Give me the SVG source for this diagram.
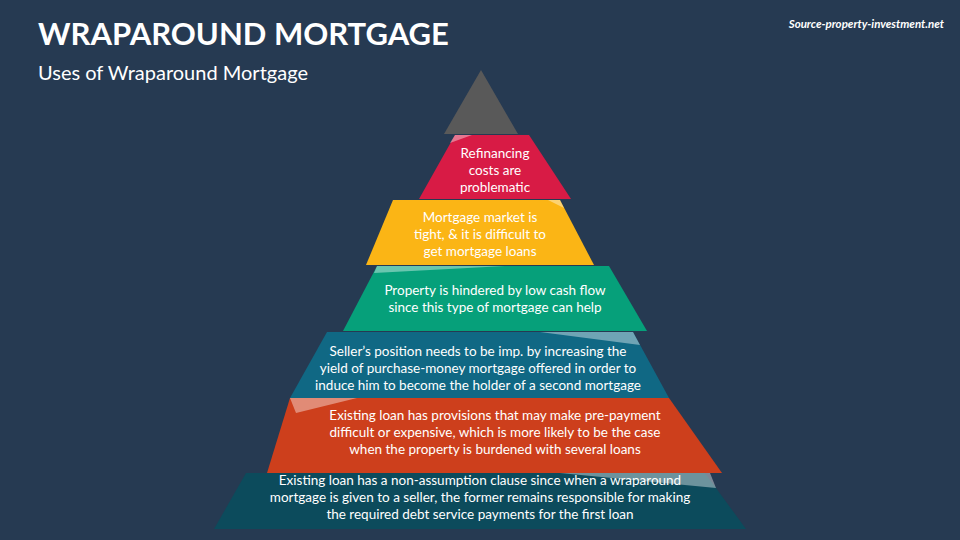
<svg xmlns="http://www.w3.org/2000/svg" width="960" height="540" viewBox="0 0 960 540">
<style>
.t{font-family:Lato,"Open Sans",sans-serif;font-size:13.5px;fill:#fff;text-anchor:middle}
.hl{fill:#fff;opacity:0.4}
</style>
<rect width="960" height="540" fill="#263a52"/>
<text x="38" y="45" font-family="Lato,'Open Sans',sans-serif" font-weight="bold" font-size="31" fill="#fff">WRAPAROUND MORTGAGE</text>
<text x="38" y="80" font-family="Lato,'Open Sans',sans-serif" font-size="20" fill="#fff">Uses of Wraparound Mortgage</text>
<text x="944" y="28" text-anchor="end" font-family="Lato,'Open Sans',sans-serif" font-weight="bold" font-style="italic" font-size="11.5" fill="#fff">Source-property-investment.net</text>
<g id="top"><polygon points="481,70 518,134 444,134" fill="#595959"/></g>
<g id="l1"><polygon points="455,135 529,135 571,199 419,199" fill="#d81b45"/><polygon class="hl" points="455,135 472,135 450,143"/>
<text class="t" x="495" y="158">Refinancing</text><text class="t" x="495" y="175">costs are</text><text class="t" x="495" y="192">problematic</text></g>
<g id="l2"><polygon points="393,200 560,200 594,265 366,265" fill="#fbb515"/><polygon class="hl" points="548,200 560,200 564,208"/>
<text class="t" x="480" y="222">Mortgage market is</text><text class="t" x="480" y="239">tight, &amp; it is difficult to</text><text class="t" x="480" y="256">get mortgage loans</text></g>
<g id="l3"><polygon points="377,266 609,266 647,331 343,331" fill="#06a07a"/><polygon class="hl" points="377,266 505,266 374,273"/>
<text class="t" x="495" y="295">Property is hindered by low cash flow</text><text class="t" x="495" y="312">since this type of mortgage can help</text></g>
<g id="l4"><polygon points="327,332 633,332 669,398 290,398" fill="#106884"/><polygon class="hl" points="540,332 633,332 640,345"/>
<text class="t" x="478" y="356">Seller’s position needs to be imp. by increasing the</text><text class="t" x="478" y="373">yield of purchase-money mortgage offered in order to</text><text class="t" x="478" y="390">induce him to become the holder of a second mortgage</text></g>
<g id="l5"><polygon points="290,398 669,398 722,473 267,473" fill="#cd3f1c"/><polygon class="hl" points="290,398 357,398 296,413"/>
<text class="t" x="495" y="420">Existing loan has provisions that may make pre-payment</text><text class="t" x="495" y="437">difficult or expensive, which is more likely to be the case</text><text class="t" x="495" y="454">when the property is burdened with several loans</text></g>
<g id="l6"><polygon points="246,473 705,473 746,529 214,529" fill="#0c4b5c"/><polygon class="hl" points="560,473 710,473 716,488"/>
<text class="t" x="480" y="485">Existing loan has a non-assumption clause since when a wraparound</text><text class="t" x="480" y="502">mortgage is given to a seller, the former remains responsible for making</text><text class="t" x="480" y="519">the required debt service payments for the first loan</text></g>
<g id="connectors"/>
</svg>
